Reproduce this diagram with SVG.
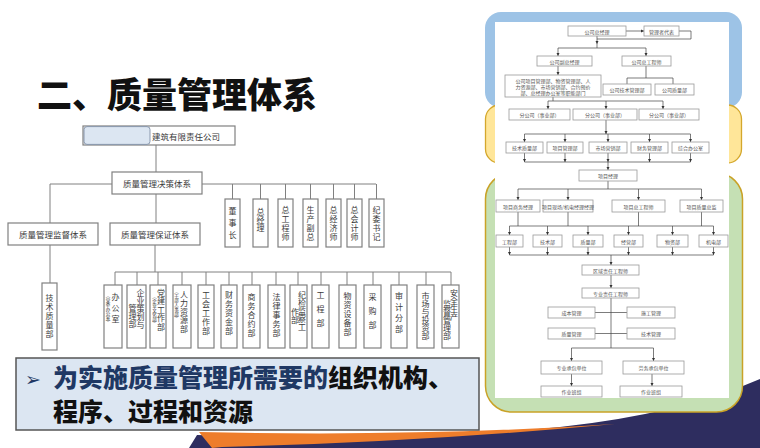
<svg xmlns="http://www.w3.org/2000/svg" width="760" height="448" viewBox="0 0 760 448">
<defs>
<style>
.t{font-family:"Noto Sans CJK SC","Noto Sans",sans-serif;fill:#3a3a3a}
.b{fill:#fff;stroke:#808080;stroke-width:1.2}
.l{fill:none;stroke:#808080;stroke-width:1}
.h{font-size:8.5px;text-anchor:middle;dominant-baseline:central}
.v{font-size:8px;writing-mode:vertical-rl;text-anchor:middle}
.vs{font-size:4.5px;writing-mode:vertical-rl;text-anchor:middle}
.r{fill:#fff;stroke:#9a9a9a;stroke-width:0.8}
.rt{font-family:"Noto Sans CJK SC","Noto Sans",sans-serif;font-size:5px;fill:#555;text-anchor:middle;dominant-baseline:central}
.rl{fill:none;stroke:#444;stroke-width:0.7}
.ra{fill:none;stroke:#444;stroke-width:0.7;marker-end:url(#ar)}
.big{font-family:"Noto Sans CJK SC","Noto Sans",sans-serif;font-size:25px;font-weight:900}
</style>
<marker id="ar" viewBox="0 0 6 6" refX="6" refY="3" markerWidth="3.5" markerHeight="3.5" orient="auto" markerUnits="userSpaceOnUse"><path d="M0,0 L6,3 L0,6 Z" fill="#333"/></marker>
</defs>
<rect width="760" height="448" fill="#fff"/>

<!-- bottom swoosh -->
<path d="M189 448 L197 435 Q 420 441 560 427 Q 680 414 760 379 L760 448 Z" fill="#2e2d5f"/>
<path d="M199 432 Q 420 437 615 424 Q 420 442 222 447 L212 448 Z" fill="#ee7d2b"/>

<!-- title -->
<text x="37" y="108" font-family="'Noto Sans CJK SC','Noto Sans',sans-serif" font-size="35" font-weight="900" fill="#111">二、质量管理体系</text>

<!-- left org chart connectors -->
<g id="left-connectors" class="l">
<path d="M156 145 V172"/>
<path d="M202 184 H376"/>
<path d="M232.5 184 V199 M260.5 184 V199 M285.5 184 V199 M310.5 184 V199 M333.5 184 V199 M354.5 184 V199 M376.5 184 V199"/>
<path d="M112 184 H50 V223"/>
<path d="M156 194 V223"/>
<path d="M50 245 V283"/>
<path d="M155 245 V272 M115 272 H451"/>
<path d="M115 272 V285 M137 272 V285 M158 272 V285 M182 272 V285 M206 272 V285 M229 272 V285 M252 272 V285 M276 272 V285 M298 272 V285 M321 272 V285 M347 272 V285 M373 272 V285 M399 272 V285 M426 272 V285 M451 272 V285"/>
</g>

<g id="company" class="t">
<rect x="83" y="126" width="152" height="19" class="b"/>
<rect x="84" y="126.6" width="66" height="17.8" rx="3" fill="#dce6f2" stroke="#7f8fa6" stroke-width="0.9"/>
<text x="152" y="136" font-size="8.5" dominant-baseline="central">建筑有限责任公司</text>
</g>
<g id="decision" class="t"><rect x="112" y="172" width="90" height="22" class="b"/><text x="157" y="183" class="h">质量管理决策体系</text></g>
<g id="supervise" class="t"><rect x="8" y="223" width="90" height="22" class="b"/><text x="53" y="234" class="h">质量管理监督体系</text></g>
<g id="assure" class="t"><rect x="110" y="223" width="90" height="22" class="b"/><text x="155" y="234" class="h">质量管理保证体系</text></g>

<g id="dsz" class="t"><rect x="225" y="199" width="15" height="48" class="b"/><text x="232.5" y="225" class="v" letter-spacing="4">董事长</text></g>
<g id="zjl" class="t"><rect x="253" y="199" width="15" height="48" class="b"/><text x="260.5" y="220" class="v" font-size="7">总经理</text></g>
<g id="zgcs" class="t"><rect x="278" y="199" width="15" height="48" class="b"/><text x="285.5" y="224" class="v" letter-spacing="1">总工程师</text></g>
<g id="scfz" class="t"><rect x="303" y="199" width="15" height="48" class="b"/><text x="310.5" y="224" class="v" letter-spacing="1">生产副总</text></g>
<g id="zjjs" class="t"><rect x="326" y="199" width="15" height="48" class="b"/><text x="333.5" y="224" class="v" letter-spacing="1">总经济师</text></g>
<g id="zkjs" class="t"><rect x="347" y="199" width="15" height="48" class="b"/><text x="354.5" y="224" class="v" letter-spacing="1">总会计师</text></g>
<g id="jwsj" class="t"><rect x="369" y="199" width="15" height="48" class="b"/><text x="376.5" y="224" class="v" letter-spacing="1">纪委书记</text></g>

<g id="jszlb" class="t"><rect x="42" y="283" width="15" height="67" class="b"/><text x="49.5" y="316" class="v" letter-spacing="1">技术质量部</text></g>

<g id="bgs" class="t"><rect x="104" y="285" width="18" height="63" class="b"/><text x="115.5" y="309" class="v" letter-spacing="3">办公室</text><text x="108" y="309" class="vs">（党委办公室）</text></g>
<g id="qych" class="t"><rect x="127" y="285" width="19" height="63" class="b"/><text x="140.5" y="309" class="v" font-size="7.5">企业策划与</text><text x="132.5" y="316" class="v" font-size="7.5">管理部</text></g>
<g id="djgz" class="t"><rect x="150" y="285" width="16" height="63" class="b"/><text x="161" y="310" class="v" font-size="7.5" letter-spacing="0.5">党建工作部</text><text x="154.5" y="310" class="vs">（企业文化部）</text></g>
<g id="rlzy" class="t"><rect x="173" y="285" width="18" height="63" class="b"/><text x="184" y="312" class="v" letter-spacing="0.5">人力资源部</text><text x="176.5" y="305" class="vs">（干部人事部）</text></g>
<g id="ghgz" class="t"><rect x="198" y="285" width="16" height="63" class="b"/><text x="206" y="313" class="v" letter-spacing="1">工会工作部</text></g>
<g id="cwzj" class="t"><rect x="221" y="285" width="16" height="63" class="b"/><text x="229" y="313" class="v" letter-spacing="1">财务资金部</text></g>
<g id="swhy" class="t"><rect x="243" y="285" width="17" height="63" class="b"/><text x="251.5" y="315" class="v" letter-spacing="1">商务合约部</text></g>
<g id="flsw" class="t"><rect x="268" y="285" width="17" height="63" class="b"/><text x="276.5" y="315" class="v" letter-spacing="1">法律事务部</text></g>
<g id="jjjc" class="t"><rect x="290" y="285" width="17" height="63" class="b"/><text x="302" y="311" class="v" font-size="7">纪检监察工</text><text x="295" y="316" class="v" font-size="7">作部</text></g>
<g id="gcb" class="t"><rect x="312" y="285" width="17" height="63" class="b"/><text x="320.5" y="312" class="v" letter-spacing="6">工程部</text></g>
<g id="wzsb" class="t"><rect x="339" y="285" width="17" height="63" class="b"/><text x="347.5" y="314" class="v" letter-spacing="1">物资设备部</text></g>
<g id="cgb" class="t"><rect x="364" y="285" width="17" height="63" class="b"/><text x="372.5" y="314" class="v" letter-spacing="6">采购部</text></g>
<g id="sjb" class="t"><rect x="391" y="285" width="16" height="63" class="b"/><text x="399" y="314" class="v" letter-spacing="3">审计分部</text></g>
<g id="sctz" class="t"><rect x="417" y="285" width="17" height="63" class="b"/><text x="425.5" y="316" class="v">市场与投资部</text></g>
<g id="aqsc" class="t"><rect x="442" y="285" width="17" height="63" class="b"/><text x="454" y="305" class="v" font-size="7">安全生产</text><text x="447" y="320" class="v" font-size="7">监督管理部</text></g>

<!-- bullet text box -->
<g id="summary">
<rect x="16" y="358" width="463" height="72" fill="#dce6f2" stroke="#555" stroke-width="1.5"/>
<text x="25" y="386" font-family="'DejaVu Sans',sans-serif" font-size="19" fill="#1f3864">➢</text>
<text x="53" y="387" class="big"><tspan fill="#1f3864">为实施质量管理所需要的</tspan><tspan fill="#111">组织机构、</tspan></text>
<text x="53" y="421" class="big" fill="#111">程序、过程和资源</text>
</g>

<!-- right panel backgrounds -->
<g id="panel-bg">
<rect x="485" y="12" width="257" height="96" rx="16" fill="#9dc3e6"/>
<rect x="485.5" y="105" width="256" height="58" rx="14" fill="#ffe699" stroke="#d4a72c" stroke-width="1.3"/>
<rect x="485.5" y="173" width="257" height="239" rx="26" fill="#c5e0b4" stroke="#c9a227" stroke-width="1.5"/>
<rect x="495" y="22" width="234" height="376" fill="#fff"/>
</g>

<!-- right flow connectors -->
<g id="right-connectors">
<path class="ra" d="M626 31 H644"/>
<path class="rl" d="M679 31 H691 V39 H597"/>
<path class="ra" d="M597 36 V44"/>
<path class="rl" d="M597 44 V48 M558 48 H646"/>
<path class="ra" d="M558 48 V56"/>
<path class="ra" d="M646 48 V56"/>
<path class="ra" d="M558 66 V75"/>
<path class="rl" d="M646 66 V78 M627 78 H673 M627 78 V84 M673 78 V84"/>
<path class="rl" d="M553 97 V101 M548 101 H663"/>
<path class="ra" d="M548 101 V109"/>
<path class="ra" d="M606 101 V109"/>
<path class="ra" d="M663 101 V109"/>
<path class="ra" d="M606 120 V134"/>
<path class="rl" d="M524.5 134 H690.5"/>
<path class="ra" d="M524.5 134 V142"/>
<path class="ra" d="M565 134 V142"/>
<path class="ra" d="M608 134 V142"/>
<path class="ra" d="M649.5 134 V142"/>
<path class="ra" d="M690.5 134 V142"/>
<path class="ra" d="M524.5 153 V162"/>
<path class="ra" d="M565 153 V162"/>
<path class="ra" d="M608 153 V162"/>
<path class="ra" d="M649.5 153 V162"/>
<path class="ra" d="M690.5 153 V162"/>
<path class="rl" d="M524.5 162 H690.5"/>
<path class="ra" d="M608 162 V170"/>
<path class="rl" d="M608 181 V189 M518 189 H701.5"/>
<path class="ra" d="M518 189 V200"/>
<path class="ra" d="M568 189 V200"/>
<path class="ra" d="M638.5 189 V200"/>
<path class="ra" d="M701.5 189 V200"/>
<path class="rl" d="M518 212 V226 M568 212 V226 M638.5 212 V226 M701.5 212 V226 M509.5 226 H713.5"/>
<path class="ra" d="M509.5 226 V235"/>
<path class="ra" d="M547.5 226 V235"/>
<path class="ra" d="M588 226 V235"/>
<path class="ra" d="M628.5 226 V235"/>
<path class="ra" d="M672.5 226 V235"/>
<path class="ra" d="M713.5 226 V235"/>
<path class="ra" d="M509.5 247 V255"/>
<path class="ra" d="M547.5 247 V255"/>
<path class="ra" d="M588 247 V255"/>
<path class="ra" d="M628.5 247 V255"/>
<path class="ra" d="M672.5 247 V255"/>
<path class="ra" d="M713.5 247 V255"/>
<path class="rl" d="M509.5 255 H713.5"/>
<path class="ra" d="M611 255 V265"/>
<path class="ra" d="M611 275 V288"/>
<path class="rl" d="M611 298 V348 M595 312.5 H627 M595 333.5 H627 M571.5 348 H653.5"/>
<path class="ra" d="M571.5 348 V361"/>
<path class="ra" d="M653.5 348 V361"/>
<path class="ra" d="M571.5 374 V386"/>
<path class="ra" d="M652 374 V386"/>
</g>

<!-- right flow nodes -->
<g id="r-zjl"><rect class="r" x="568" y="26" width="58" height="10"/><text class="rt" x="597" y="31">公司总经理</text></g>
<g id="r-glzdb"><rect class="r" x="644" y="26" width="35" height="10"/><text class="rt" x="661.5" y="31">管理者代表</text></g>
<g id="r-fzjl"><rect class="r" x="537" y="56" width="55" height="10"/><text class="rt" x="564.5" y="61">公司副总经理</text></g>
<g id="r-zgcs"><rect class="r" x="622" y="56" width="49" height="10"/><text class="rt" x="646.5" y="61">公司总工程师</text></g>
<g id="r-znbm"><rect class="r" x="505" y="75" width="96" height="22"/>
<text class="rt" x="553" y="80">公司项目管理部、物资管理部、人</text>
<text class="rt" x="553" y="86">力资源部、市场营销部、合约预价</text>
<text class="rt" x="553" y="92">部、总经理办公室等职能部门</text></g>
<g id="r-jsglb"><rect class="r" x="603" y="84" width="48" height="11"/><text class="rt" x="627" y="89.5">公司技术管理部</text></g>
<g id="r-zlb"><rect class="r" x="655" y="84" width="39" height="11"/><text class="rt" x="674.5" y="89.5">公司质量部</text></g>
<g id="r-fgs1"><rect class="r" x="509" y="109" width="61" height="11"/><text class="rt" x="539.5" y="114.5">分公司（事业部）</text></g>
<g id="r-fgs2"><rect class="r" x="573" y="109" width="64" height="11"/><text class="rt" x="605" y="114.5">分公司（事业部）</text></g>
<g id="r-fgs3"><rect class="r" x="639" y="109" width="60" height="11"/><text class="rt" x="669" y="114.5">分公司（事业部）</text></g>
<g id="r-jszl"><rect class="r" x="506" y="142" width="37" height="11"/><text class="rt" x="524.5" y="147.5">技术质量部</text></g>
<g id="r-xmgl"><rect class="r" x="547" y="142" width="36" height="11"/><text class="rt" x="565" y="147.5">项目管理部</text></g>
<g id="r-scyx"><rect class="r" x="589" y="142" width="38" height="11"/><text class="rt" x="608" y="147.5">市场营销部</text></g>
<g id="r-cwgl"><rect class="r" x="631" y="142" width="37" height="11"/><text class="rt" x="649.5" y="147.5">财务管理部</text></g>
<g id="r-zhbgs"><rect class="r" x="672" y="142" width="37" height="11"/><text class="rt" x="690.5" y="147.5">综合办公室</text></g>
<g id="r-xmjl"><rect class="r" x="579" y="170" width="58" height="11"/><text class="rt" x="608" y="175.5">项目经理</text></g>
<g id="r-swjl"><rect class="r" x="496" y="200" width="44" height="12"/><text class="rt" x="518" y="206">项目商务经理</text></g>
<g id="r-xcjl"><rect class="r" x="543" y="200" width="50" height="12"/><text class="rt" x="568" y="206">项目现场/机电经理经理</text></g>
<g id="r-xmzg"><rect class="r" x="612" y="200" width="53" height="12"/><text class="rt" x="638.5" y="206">项目总工程师</text></g>
<g id="r-zlzj"><rect class="r" x="680" y="200" width="43" height="12"/><text class="rt" x="701.5" y="206">项目质量总监</text></g>
<g id="r-gcb"><rect class="r" x="496" y="235" width="27" height="12"/><text class="rt" x="509.5" y="241">工程部</text></g>
<g id="r-jsb"><rect class="r" x="533" y="235" width="29" height="12"/><text class="rt" x="547.5" y="241">技术部</text></g>
<g id="r-zlb2"><rect class="r" x="573" y="235" width="30" height="12"/><text class="rt" x="588" y="241">质量部</text></g>
<g id="r-jyb"><rect class="r" x="614" y="235" width="29" height="12"/><text class="rt" x="628.5" y="241">经营部</text></g>
<g id="r-wzb"><rect class="r" x="657" y="235" width="31" height="12"/><text class="rt" x="672.5" y="241">物资部</text></g>
<g id="r-jdb"><rect class="r" x="699" y="235" width="29" height="12"/><text class="rt" x="713.5" y="241">机电部</text></g>
<g id="r-qyzr"><rect class="r" x="582" y="265" width="57" height="10"/><text class="rt" x="610.5" y="270">区域责任工程师</text></g>
<g id="r-zyzr"><rect class="r" x="582" y="288" width="57" height="10"/><text class="rt" x="610.5" y="293">专业责任工程师</text></g>
<g id="r-cbgl"><rect class="r" x="548" y="307" width="47" height="11"/><text class="rt" x="571.5" y="312.5">成本管理</text></g>
<g id="r-sggl"><rect class="r" x="627" y="307" width="48" height="11"/><text class="rt" x="651" y="312.5">施工管理</text></g>
<g id="r-zlgl"><rect class="r" x="548" y="328" width="47" height="11"/><text class="rt" x="571.5" y="333.5">质量管理</text></g>
<g id="r-jsgl"><rect class="r" x="627" y="328" width="48" height="11"/><text class="rt" x="651" y="333.5">技术管理</text></g>
<g id="r-zycb"><rect class="r" x="541" y="361" width="61" height="13"/><text class="rt" x="571.5" y="367.5">专业承包单位</text></g>
<g id="r-lwcb"><rect class="r" x="623" y="361" width="61" height="13"/><text class="rt" x="653.5" y="367.5">劳务承包单位</text></g>
<g id="r-zybz1"><rect class="r" x="541" y="386" width="61" height="11"/><text class="rt" x="571.5" y="391.5">作业班组</text></g>
<g id="r-zybz2"><rect class="r" x="620" y="386" width="62" height="11"/><text class="rt" x="651" y="391.5">作业班组</text></g>
</svg>
